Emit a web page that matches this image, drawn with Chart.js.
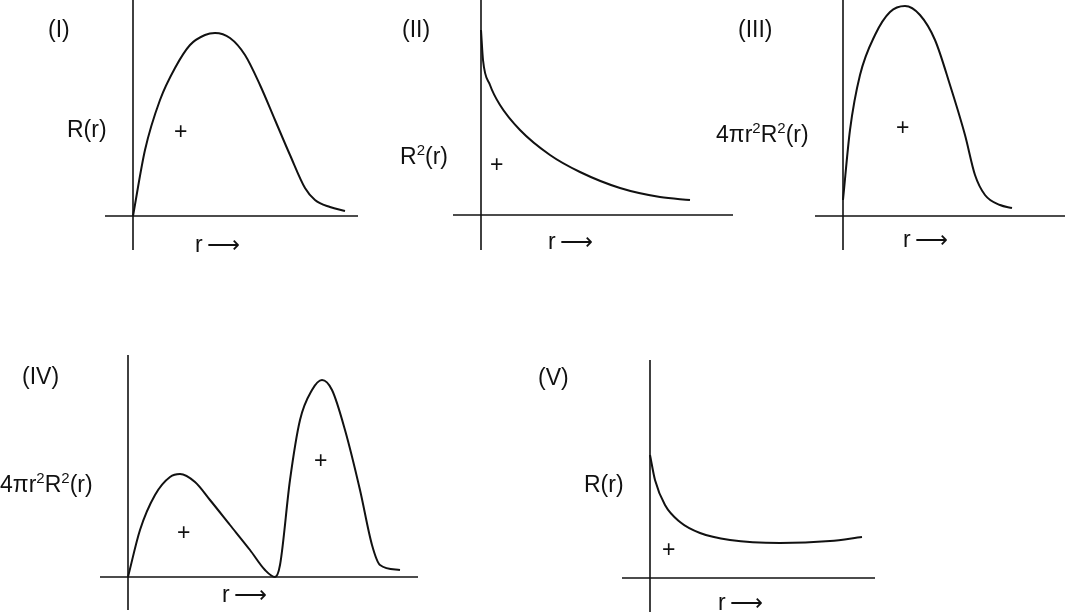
<!DOCTYPE html>
<html><head><meta charset="utf-8">
<script src="https://cdn.jsdelivr.net/npm/chart.js@4"></script>
<style>
body{margin:0;background:#fff;width:1067px;height:614px;position:relative;overflow:hidden;font-family:"Liberation Sans",Arial,sans-serif;}
canvas{position:absolute;left:0;top:0;}
.t{position:absolute;font-size:23px;color:#111;white-space:nowrap;line-height:1;}
sup{font-size:15px;vertical-align:9px;line-height:0;}
</style></head><body>
<script>
// Curves in local units (r, value), origin at axes crossing
const curveI   = [[0,0],[1.2,6.6],[2.7,11.6],[4.2,14.8],[5.7,17.1],[7.2,18.1],[8.2,18.3],[9.7,17.8],[11.2,16.1],[12.7,13.1],[14.2,9.6],[15.7,6.1],[17.2,2.8],[18.2,1.6],[19.7,0.9],[21.2,0.5]];
const curveII  = [[0,18.5],[0.2,15.5],[0.9,13],[1.9,11],[3.9,8.5],[6.9,6],[9.9,4.3],[13.9,2.7],[17.9,1.8],[20.9,1.5]];
const curveIII = [[0,1.6],[0.7,8.6],[1.7,14.1],[3.2,18.1],[4.7,20.4],[6.2,21],[7.7,20.1],[9.2,17.6],[10.7,13.1],[12.2,8.1],[13.2,4.1],[14.2,2.1],[15.7,1.1],[16.9,0.8]];
const curveIV  = [[0,0],[1.2,4.7],[2.7,8.2],[4.2,10],[5.2,10.3],[6.7,9.5],[8.2,7.7],[10.2,5.2],[12.2,2.7],[13.7,0.7],[14.7,0],[15.2,1.2],[16.2,9.7],[17.2,15.7],[18.4,18.7],[19.4,19.7],[20.4,18.7],[21.7,14.7],[23.2,8.7],[24.4,3.2],[25.2,1.2],[27.2,0.7]];
const curveV   = [[0,12.3],[0.5,9.8],[1.5,7.3],[3,5.6],[5,4.5],[8,3.8],[13,3.5],[18,3.7],[21.2,4.1]];
// axis extents [xmin,xmax,ymin,ymax]
const axesI=[-2.8,22.5,-3.4,21.6], axesII=[-2.8,25.2,-3.5,21.5], axesIII=[-2.8,22.2,-3.4,21.6], axesIV=[-2.8,29,-3.3,22.2], axesV=[-2.8,22.5,-3.4,21.8];

const panels=[
 {o:[133,216],c:curveI,a:axesI},
 {o:[481,215],c:curveII,a:axesII},
 {o:[843,216],c:curveIII,a:axesIII},
 {o:[128,577],c:curveIV,a:axesIV},
 {o:[650,578],c:curveV,a:axesV}
];
const W=1067,H=614,U=10;
panels.forEach(p=>{
  const cv=document.createElement('canvas');cv.width=W;cv.height=H;
  cv.style.width=W+'px';cv.style.height=H+'px';document.body.appendChild(cv);
  const [ox,oy]=p.o;
  const ln=(d,w)=>({data:d.map(q=>({x:q[0],y:q[1]})),borderColor:'#111',borderWidth:w,pointRadius:0,fill:false,cubicInterpolationMode:'monotone'});
  new Chart(cv,{type:'line',data:{datasets:[
    ln([[p.a[0],0],[p.a[1],0]],1.6),
    {...ln([[0,p.a[2]],[0,p.a[3]]],1.6),cubicInterpolationMode:'default'},
    ln(p.c,2)
  ]},options:{responsive:false,animation:false,parsing:true,layout:{padding:0},
    plugins:{legend:{display:false},tooltip:{enabled:false}},
    scales:{x:{type:'linear',display:false,min:-ox/U,max:(W-ox)/U},
            y:{type:'linear',display:false,min:-(H-oy)/U,max:oy/U}}}});
});
const labels=[
 ['(I)',48,18],['R(r)',67,118],['+',174,120],['r&thinsp;&#10230;',195,233],
 ['(II)',402,18],['R<sup>2</sup>(r)',400,145],['+',490,153],['r&thinsp;&#10230;',548,230],
 ['(III)',738,18],['4&pi;r<sup>2</sup>R<sup>2</sup>(r)',716,123],['+',896,116],['r&thinsp;&#10230;',903,228],
 ['(IV)',22,365],['4&pi;r<sup>2</sup>R<sup>2</sup>(r)',0,473],['+',177,521],['+',314,449],['r&thinsp;&#10230;',222,583],
 ['(V)',538,366],['R(r)',584,473],['+',662,538],['r&thinsp;&#10230;',718,591]
];
labels.forEach(l=>{const s=document.createElement('div');s.className='t';s.innerHTML=l[0];s.style.left=l[1]+'px';s.style.top=l[2]+'px';document.body.appendChild(s);});
</script>
</body></html>
